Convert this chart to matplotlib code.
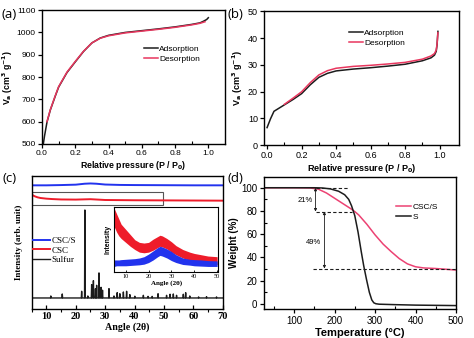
import numpy as np
import matplotlib
matplotlib.use("Agg")
import matplotlib.pyplot as plt
from matplotlib.patches import Rectangle

plt.rcParams['font.family'] = ['Liberation Sans', 'DejaVu Sans']
plt.rcParams['mathtext.default'] = 'bf'

# ---------------- (a) N2 isotherm of CSC ----------------
a_ads_p = [0.008, 0.015, 0.03, 0.05, 0.08, 0.10, 0.15, 0.20, 0.25, 0.30, 0.35, 0.40, 0.50,
           0.60, 0.70, 0.80, 0.90, 0.95, 0.97, 0.99, 1.00]
a_ads_v = [500, 535, 598, 652, 715, 755, 820, 868, 915, 953, 975, 987, 1000,
           1008, 1016, 1025, 1036, 1043, 1050, 1058, 1066]
a_des_p = [0.03, 0.05, 0.08, 0.10, 0.15, 0.20, 0.25, 0.30, 0.35, 0.40, 0.50,
           0.60, 0.70, 0.80, 0.90, 0.95, 0.98]
a_des_v = [600, 654, 717, 757, 822, 870, 916, 953, 974, 985, 998,
           1006, 1014, 1023, 1034, 1041, 1048]

# ---------------- (b) N2 isotherm of CSC/S ----------------
b_ads_p = [0.0, 0.02, 0.04, 0.07, 0.10, 0.15, 0.20, 0.25, 0.30, 0.35, 0.40, 0.50, 0.60,
           0.70, 0.80, 0.90, 0.95, 0.97, 0.98, 0.985, 0.99]
b_ads_v = [6.5, 9.8, 12.6, 13.8, 15.0, 17.0, 19.2, 22.5, 25.3, 26.8, 27.7, 28.4, 28.9,
           29.5, 30.2, 31.5, 32.6, 33.6, 35.0, 37.5, 42.5]
b_des_p = [0.10, 0.15, 0.20, 0.25, 0.30, 0.35, 0.40, 0.50, 0.60, 0.70, 0.80, 0.90,
           0.95, 0.97, 0.98, 0.985, 0.99]
b_des_v = [15.2, 17.5, 19.9, 23.3, 26.2, 27.8, 28.7, 29.4, 29.8, 30.3, 30.9, 32.1,
           33.3, 34.2, 35.5, 37.8, 42.0]

# ---------------- (c) XRD ----------------
s_peak_pos = [11.5, 15.4, 22.0, 23.1, 24.1, 25.4, 26.0, 26.7, 27.1, 27.9, 28.6, 29.1,
              31.3, 33.0, 34.1, 35.0, 36.2, 37.3, 38.4, 40.1, 43.0, 44.6, 46.0, 48.0,
              50.9, 52.1, 53.2, 54.3, 56.6, 57.4, 58.8, 61.8, 64.5, 67.9]
s_peak_h = [1.5, 3.0, 5.0, 66.0, 1.5, 10.0, 13.0, 7.0, 9.5, 18.8, 8.0, 5.8,
            7.0, 1.5, 4.0, 3.2, 4.5, 5.0, 2.5, 1.3, 2.0, 1.2, 1.2, 3.2,
            2.0, 2.8, 3.0, 2.0, 2.8, 4.0, 1.5, 0.8, 1.0, 0.8]
s_base = 8.5
csc_x = [5, 6, 7, 8, 10, 12, 15, 20, 25, 30, 40, 50, 60, 70]
csc_y = [86.0, 84.8, 84.0, 83.5, 83.0, 82.7, 82.4, 82.3, 82.6, 82.0, 81.8, 81.7, 81.6, 81.5]
cscs_x = [5, 10, 15, 20, 23, 25, 27, 30, 35, 40, 50, 60, 70]
cscs_y = [93.0, 93.0, 93.2, 93.5, 94.2, 94.4, 94.2, 93.6, 93.3, 93.2, 93.1, 93.0, 93.0]

# inset (enlarged amorphous region): lower / upper envelope of noisy patterns
ins_x = [5, 6, 7, 8, 10, 12, 14, 16, 18, 20, 22, 24, 25, 26, 28, 30, 32, 35, 38, 40, 43, 46, 50]
ins_csc_lo = [70, 62, 56, 52, 46, 40, 35, 31, 30, 31, 34, 38, 40, 39, 36, 31, 27, 22, 18, 16, 14, 13, 12]
ins_csc_hi = [98, 90, 82, 74, 66, 58, 50, 46, 45, 46, 51, 55, 57, 56, 52, 47, 41, 35, 31, 29, 27, 25, 24]
ins_cscs_lo = [9, 10, 10, 10, 10, 10.5, 11, 11.5, 12.5, 15, 19, 24, 26, 25, 22, 18, 15, 12, 11, 10, 9.5, 9, 9]
ins_cscs_hi = [19, 19, 19, 19.5, 20, 20.5, 21, 22, 24, 28, 33, 38, 40, 39, 36, 32, 27, 22, 20, 19.5, 19, 18, 17.5]

# ---------------- (d) TGA ----------------
t_cscs = [25, 100, 140, 160, 180, 200, 220, 240, 250, 260, 280, 300, 320, 340, 350,
          360, 380, 400, 420, 450, 500]
w_cscs = [100, 100, 99.8, 98.8, 95.5, 91.0, 86.5, 82.0, 79.5, 76.5, 68.5, 59.5, 51.5,
          45.0, 42.0, 39.0, 34.5, 32.0, 31.0, 30.5, 29.2]
t_s = [25, 100, 150, 170, 190, 210, 225, 235, 242, 250, 258, 266, 272, 279, 286, 292,
       297, 302, 310, 350, 400, 450, 500]
w_s = [100, 100, 100, 99.8, 99.0, 97.0, 94.0, 90.0, 84.5, 76.0, 62.0, 45.0, 33.0, 21.0,
       10.0, 3.5, 1.0, 0.2, -0.2, -0.6, -1.0, -1.2, -1.4]
lvl_top, lvl_mid, lvl_low = 100, 79.5, 30.5

BLACK = '#1c1c1c'
RED = '#e8365e'
PINK = '#ec4273'
BLUE = '#2233ee'
XRED = '#ee1c2a'

fig = plt.figure(figsize=(4.74, 3.38), dpi=100)

def style_sans(ax, size=6):
    for s in ax.spines.values():
        s.set_linewidth(1.0)
    ax.tick_params(which='major', direction='out', length=3, width=0.9, labelsize=size, pad=1.5)
    ax.tick_params(which='minor', direction='in', length=2, width=0.8)

# (a)
ax = fig.add_axes([0.0886, 0.574, 0.386, 0.396])
ax.plot(a_ads_p, a_ads_v, color=BLACK, lw=1.1, label='Adsorption')
ax.plot(a_des_p, a_des_v, color=RED, lw=1.1, label='Desorption')
ax.set_xlim(0, 1.1)
ax.set_ylim(500, 1100)
ax.set_xticks([0.0, 0.2, 0.4, 0.6, 0.8, 1.0])
ax.set_xticks([0.1, 0.3, 0.5, 0.7, 0.9], minor=True)
ax.set_yticks(range(500, 1101, 100))
ax.set_xticklabels(['0.0', '0.2', '0.4', '0.6', '0.8', '1.0'])
style_sans(ax)
ax.set_xlabel('Relative pressure (P / P$_0$)', fontsize=6.3, fontweight='bold', labelpad=1)
ax.set_ylabel('V$_a$ (cm$^3$ g$^{-1}$)', fontsize=6.3, fontweight='bold')
ax.yaxis.set_label_coords(-0.15, 0.5)
ax.legend(loc='upper left', bbox_to_anchor=(0.56, 0.74), frameon=False, fontsize=6,
          handlelength=1.6, handletextpad=0.2, labelspacing=0.3, borderpad=0, borderaxespad=0)
fig.text(0.004, 0.975, '(a)', fontsize=9.5, va='top', ha='left', family='Open Sans')

# (b)
ax = fig.add_axes([0.5576, 0.571, 0.410, 0.3956])
ax.plot(b_ads_p, b_ads_v, color=BLACK, lw=1.1, label='Adsorption')
ax.plot(b_des_p, b_des_v, color=RED, lw=1.1, label='Desorption')
ax.set_xlim(-0.016, 1.11)
ax.set_ylim(0, 50)
ax.set_xticks([0.0, 0.2, 0.4, 0.6, 0.8, 1.0])
ax.set_xticks([0.1, 0.3, 0.5, 0.7, 0.9], minor=True)
ax.set_yticks(range(0, 51, 10))
ax.set_xticklabels(['0.0', '0.2', '0.4', '0.6', '0.8', '1.0'])
style_sans(ax, 6.5)
ax.set_xlabel('Relative pressure (P / P$_0$)', fontsize=6.5, fontweight='bold', labelpad=1)
ax.set_ylabel('V$_a$ (cm$^3$ g$^{-1}$)', fontsize=6.5, fontweight='bold', labelpad=2)
ax.legend(loc='upper left', bbox_to_anchor=(0.434, 0.87), frameon=False, fontsize=6,
          handlelength=1.7, handletextpad=0.2, labelspacing=0.3, borderpad=0, borderaxespad=0)
fig.text(0.479, 0.975, '(b)', fontsize=9.5, va='top', ha='left', family='Open Sans')

# (c)
ax = fig.add_axes([0.0669, 0.0849, 0.4029, 0.3944])
# sulfur pattern: narrow peaks on a flat baseline
sx, sy = [5.0], [s_base]
for p, h in sorted(zip(s_peak_pos, s_peak_h)):
    sx += [p - 0.12, p, p + 0.12]
    sy += [s_base, s_base + h, s_base]
sx.append(70.0)
sy.append(s_base)
ax.plot(cscs_x, cscs_y, color=BLUE, lw=1.4, label='CSC/S')
ax.plot(csc_x, csc_y, color=XRED, lw=1.4, label='CSC')
ax.plot(sx, sy, color=BLACK, lw=1.0, label='Sulfur')
ax.set_xlim(5, 70)
ax.set_ylim(0, 100)
ax.set_yticks([])
ax.set_xticks(range(10, 71, 10))
ax.set_xticks(range(5, 70, 10), minor=True)
for s in ax.spines.values():
    s.set_linewidth(1.0)
ax.tick_params(which='major', direction='in', length=3, width=0.9, labelsize=7.5, pad=2)
ax.tick_params(which='minor', direction='out', length=2, width=0.8)
for lbl in ax.get_xticklabels():
    lbl.set_family('Liberation Serif')
    lbl.set_fontweight('bold')
ax.set_xlabel('Angle (2θ)', fontsize=7.2, fontweight='bold', family='Liberation Serif', labelpad=1)
ax.set_ylabel('Intensity (arb. unit)', fontsize=6.5, fontweight='bold', family='Liberation Serif', labelpad=6)
ax.legend(loc='upper left', bbox_to_anchor=(0.005, 0.545), frameon=False,
          prop={'family': 'Liberation Serif', 'size': 6.5},
          handlelength=1.9, handletextpad=0.2, labelspacing=0.15, borderpad=0, borderaxespad=0)
ax.add_patch(Rectangle((5, 78.2), 44.8, 9.6, fill=False, edgecolor='#555555', lw=0.8))
ax.annotate('', xy=(46.4, 59.5), xytext=(43.8, 77.8),
            arrowprops=dict(arrowstyle='-|>', color='#333333', lw=0.6, mutation_scale=5))
fig.text(0.006, 0.492, '(c)', fontsize=9.5, va='top', ha='left', family='Open Sans')

# inset of (c)
ins = fig.add_axes([0.2411, 0.1944, 0.2194, 0.1923])
ins.fill_between(ins_x, ins_csc_lo, ins_csc_hi, color=XRED, lw=0)
ins.fill_between(ins_x, ins_cscs_lo, ins_cscs_hi, color=BLUE, lw=0)
ins.set_xlim(5, 50.5)
ins.set_ylim(0, 100)
ins.set_yticks([])
ins.set_xticks(range(10, 51, 10))
ins.tick_params(direction='in', length=1.5, width=0.6, labelsize=4.5, pad=1)
for lbl in ins.get_xticklabels():
    lbl.set_family('Liberation Serif')
for s in ins.spines.values():
    s.set_linewidth(0.8)
ins.set_xlabel('Angle (2θ)', fontsize=5, fontweight='bold', family='Liberation Serif', labelpad=1)
ins.set_ylabel('Intensity', fontsize=5, fontweight='bold', labelpad=2)

# (d)
ax = fig.add_axes([0.5563, 0.0849, 0.4057, 0.3923])
ax.plot(t_cscs, w_cscs, color=PINK, lw=1.1, label='CSC/S')
ax.plot(t_s, w_s, color=BLACK, lw=1.1, label='S')
ax.set_xlim(25, 500)
ax.set_ylim(-4.6, 109.5)
ax.set_xticks([100, 200, 300, 400, 500])
ax.set_xticks([50, 150, 250, 350, 450], minor=True)
ax.set_yticks([0, 20, 40, 60, 80, 100])
ax.set_yticks([10, 30, 50, 70, 90], minor=True)
style_sans(ax, 7)
ax.set_xlabel('Temperature (°C)', fontsize=8, fontweight='bold', labelpad=2)
ax.set_ylabel('Weight (%)', fontsize=7, fontweight='bold', labelpad=2)
ax.plot([153, 234], [lvl_top, lvl_top], color=BLACK, lw=0.8, ls=(0, (3, 2)))
ax.plot([153, 242], [lvl_mid, lvl_mid], color=BLACK, lw=0.8, ls=(0, (3, 2)))
ax.plot([146, 500], [lvl_low, lvl_low], color=BLACK, lw=0.8, ls=(0, (3, 2)))
ax.annotate('', xy=(153, lvl_mid), xytext=(153, lvl_top),
            arrowprops=dict(arrowstyle='<|-|>', color=BLACK, lw=0.6, mutation_scale=4,
                            shrinkA=0, shrinkB=0))
ax.annotate('', xy=(175, lvl_low), xytext=(175, lvl_mid),
            arrowprops=dict(arrowstyle='<|-|>', color=BLACK, lw=0.6, mutation_scale=4,
                            shrinkA=0, shrinkB=0))
ax.text(127, 89, '21%', fontsize=5.5, ha='center', va='center')
ax.text(147, 53, '49%', fontsize=5.5, ha='center', va='center')
ax.legend(loc='upper left', bbox_to_anchor=(0.69, 0.80), frameon=False, fontsize=6,
          handlelength=1.7, handletextpad=0.3, labelspacing=0.25, borderpad=0, borderaxespad=0)
fig.text(0.481, 0.492, '(d)', fontsize=9.5, va='top', ha='left', family='Open Sans')

fig.savefig('out.png', dpi=100)
